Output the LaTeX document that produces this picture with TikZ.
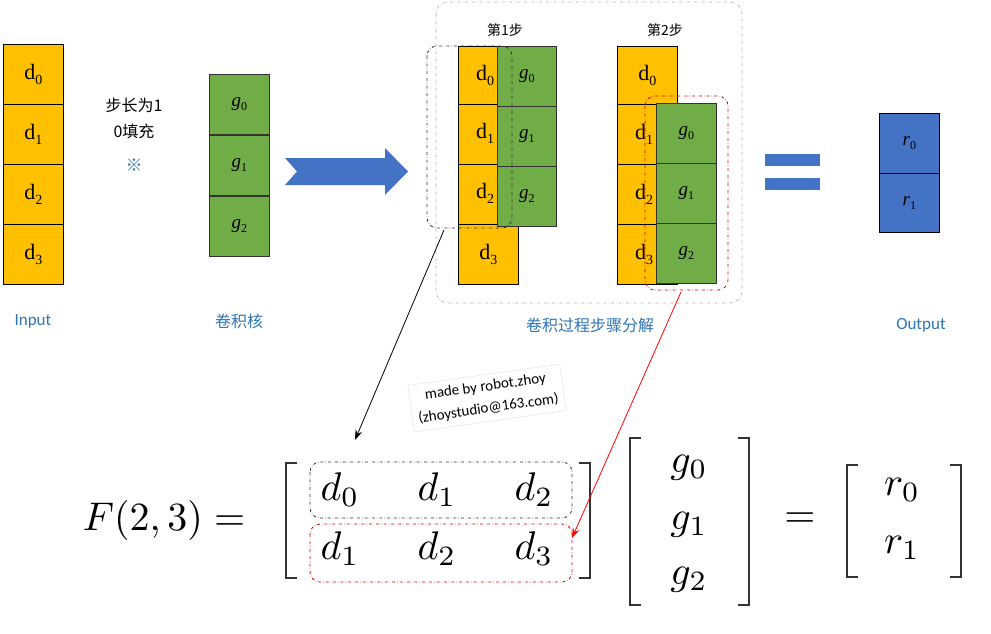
\documentclass[tikz,border=0pt]{standalone}
\usepackage{fontspec}
\setmainfont{Liberation Serif}
\newfontfamily\cjk{Noto Sans CJK SC}
\newfontfamily\calfnt{Carlito}
\usetikzlibrary{arrows.meta}
\definecolor{org}{HTML}{FFC000}
\definecolor{grn}{HTML}{70AD47}
\definecolor{blu}{HTML}{4472C4}
\definecolor{txb}{HTML}{2E75B6}
\newcommand\dsub[1]{d\raisebox{-5pt}{\fontsize{14}{14}\selectfont #1}}
\newcommand\gsub[2]{\textit{#1}\raisebox{-4pt}{\fontsize{12}{12}\selectfont #2}}
\tikzset{
 dcell/.style={draw=black,fill=org,line width=0.6pt,inner sep=0pt,anchor=north west},
 gcell/.style={draw=black!80,fill=grn,line width=0.8pt,inner sep=0pt,anchor=north west,minimum width=60pt,minimum height=60pt,font=\fontsize{19}{20}\selectfont},
 rcell/.style={draw=black,fill=blu,line width=0.6pt,inner sep=0pt,anchor=north west,minimum width=60pt,minimum height=60pt,font=\fontsize{19}{20}\selectfont},
 dtxt/.style={font=\fontsize{22}{24}\selectfont,inner sep=0pt},
 lab/.style={text=txb,font=\calfnt\fontsize{17}{20}\selectfont},
 clab/.style={text=txb,font=\cjk\fontsize{16}{20}\selectfont},
 big/.style={inner sep=0pt},
 brk/.style={line width=1.8pt,draw=black!80},
}
\newcommand\bigmath[1]{\scalebox{4}{$#1$}}
\begin{document}
\begin{tikzpicture}[x=1pt,y=-1pt]
\fill[white] (0,0) rectangle (991,633);
% Input
\foreach \i/\y in {0/44,1/104,2/164,3/224}{
 \node[dcell,minimum width=60pt,minimum height=60pt,dtxt] (in\i) at (3,\y) {\dsub{\i}};}
\node[font=\cjk\fontsize{16}{26}\selectfont,align=center] (stp) at (134,118) {步长为1\\0填充};
\node[text=txb,font=\cjk\fontsize{17}{17}\selectfont] (mark) at (134,165) {※};
% kernel
\foreach \i/\y in {0/74,1/135,2/196}{
 \node[gcell] (k\i) at (209,\y) {\gsub{g}{\i}};}
% big arrow
\fill[blu] (285,158) -- (385,158) -- (385,148) -- (408,171.5) -- (385,195) -- (385,185) -- (285,185) -- (297,171.5) -- cycle;
% grey frame
\draw[gray!60,dash dot,rounded corners=12pt,line width=0.7pt] (436,2) rectangle (742,303);
\node[font=\cjk\fontsize{14}{16}\selectfont] (s1) at (505,30) {第1步};
\node[font=\cjk\fontsize{14}{16}\selectfont] (s2) at (665,30) {第2步};
% step1
\foreach \i/\y/\h in {0/46/58,1/104/60,2/164/60}{
 \node[dcell,minimum width=60pt,minimum height=\h pt] (a\i) at (458,\y) {};
 \node[dtxt,anchor=west] (at\i) at (476,\y+29) {\dsub{\i}};}
\node[dcell,minimum width=60pt,minimum height=60pt,dtxt] (a3) at (458,224) {\dsub{3}};
\foreach \i/\y in {0/46,1/106,2/166}{
 \node[gcell,minimum width=59pt] (b\i) at (497,\y) {\gsub{g}{\i}};}
\draw[black!80,dash dot,rounded corners=10pt,line width=0.8pt] (427,46) rectangle (512,228);
% step2
\node[dcell,minimum width=60pt,minimum height=58pt,dtxt] (c0) at (617,46) {\dsub{0}};
\foreach \i/\y in {1/104,2/164,3/224}{
 \node[dcell,minimum width=60pt,minimum height=60pt] (c\i) at (617,\y) {};
 \node[dtxt,anchor=west] (ct\i) at (635,\y+30) {\dsub{\i}};}
\foreach \i/\y in {0/103,1/163,2/223}{
 \node[gcell] (e\i) at (656,\y) {\gsub{g}{\i}};}
\draw[red!85!black,dash dot,rounded corners=10pt,line width=0.8pt] (645,96) rectangle (728,290);
% equals
\fill[blu] (765,154) rectangle (820,166);
\fill[blu] (765,178) rectangle (820,190);
% output
\node[rcell] (r0) at (879,113) {\gsub{r}{0}};
\node[rcell,minimum height=59pt] (r1) at (879,173) {\gsub{r}{1}};
% labels
\node[lab] (l1) at (33,321) {Input};
\node[clab] (l2) at (239,321) {卷积核};
\node[clab] (l3) at (590,325) {卷积过程步骤分解};
\node[lab] (l4) at (921,325) {Output};
% watermark
\node[draw=gray!25,rotate=8,align=center,font=\calfnt\fontsize{15}{22}\selectfont,inner sep=6pt,fill=white] (wm) at (487,398) {made by robot.zhoy\\(zhoystudio@163.com)};
% formula
\node[big] (F) at (164,520) {\bigmath{F(2,3)=}};
\draw[brk] (297,463) -- (286,463) -- (286,578) -- (297,578);
\draw[brk] (579,463) -- (590,463) -- (590,578) -- (579,578);
\foreach \n/\x/\t in {m00/340/d_0,m01/437/d_1,m02/534/d_2}{\node[big] (\n) at (\x,490) {\bigmath{\t}};}
\foreach \n/\x/\t in {m10/340/d_1,m11/437/d_2,m12/534/d_3}{\node[big] (\n) at (\x,549) {\bigmath{\t}};}
\draw[brk] (641,438) -- (630,438) -- (630,605) -- (641,605);
\draw[brk] (738,438) -- (749,438) -- (749,605) -- (738,605);
\foreach \n/\y/\t in {g0/468/g_0,g1/525/g_1,g2/580/g_2}{\node[big] (\n) at (689,\y) {\bigmath{\t}};}
\node[big] (eq) at (800,520) {\bigmath{=}};
\draw[brk] (858,465) -- (847,465) -- (847,577) -- (858,577);
\draw[brk] (950,465) -- (961,465) -- (961,577) -- (950,577);
\node[big] (o0) at (902,490) {\bigmath{r_0}};
\node[big] (o1) at (902,548) {\bigmath{r_1}};
\draw[black!80,dash dot,rounded corners=10pt,line width=0.8pt] (310,462) rectangle (572,518);
\coordinate (boxR) at (572,538);
\draw[red!85!black,dash dot,rounded corners=10pt,line width=0.8pt] (310,524) rectangle (572,582);
% connectors
\coordinate (blkS) at (444,230);
\coordinate (blkE) at (355,440);
\draw[-{Stealth[length=10pt,width=7pt]},line width=0.8pt] (blkS) -- (blkE);
\coordinate (redS) at (681,292);
\draw[red,-{Stealth[length=10pt,width=7pt]},line width=0.8pt] (redS) -- (boxR);
\end{tikzpicture}
\end{document}
